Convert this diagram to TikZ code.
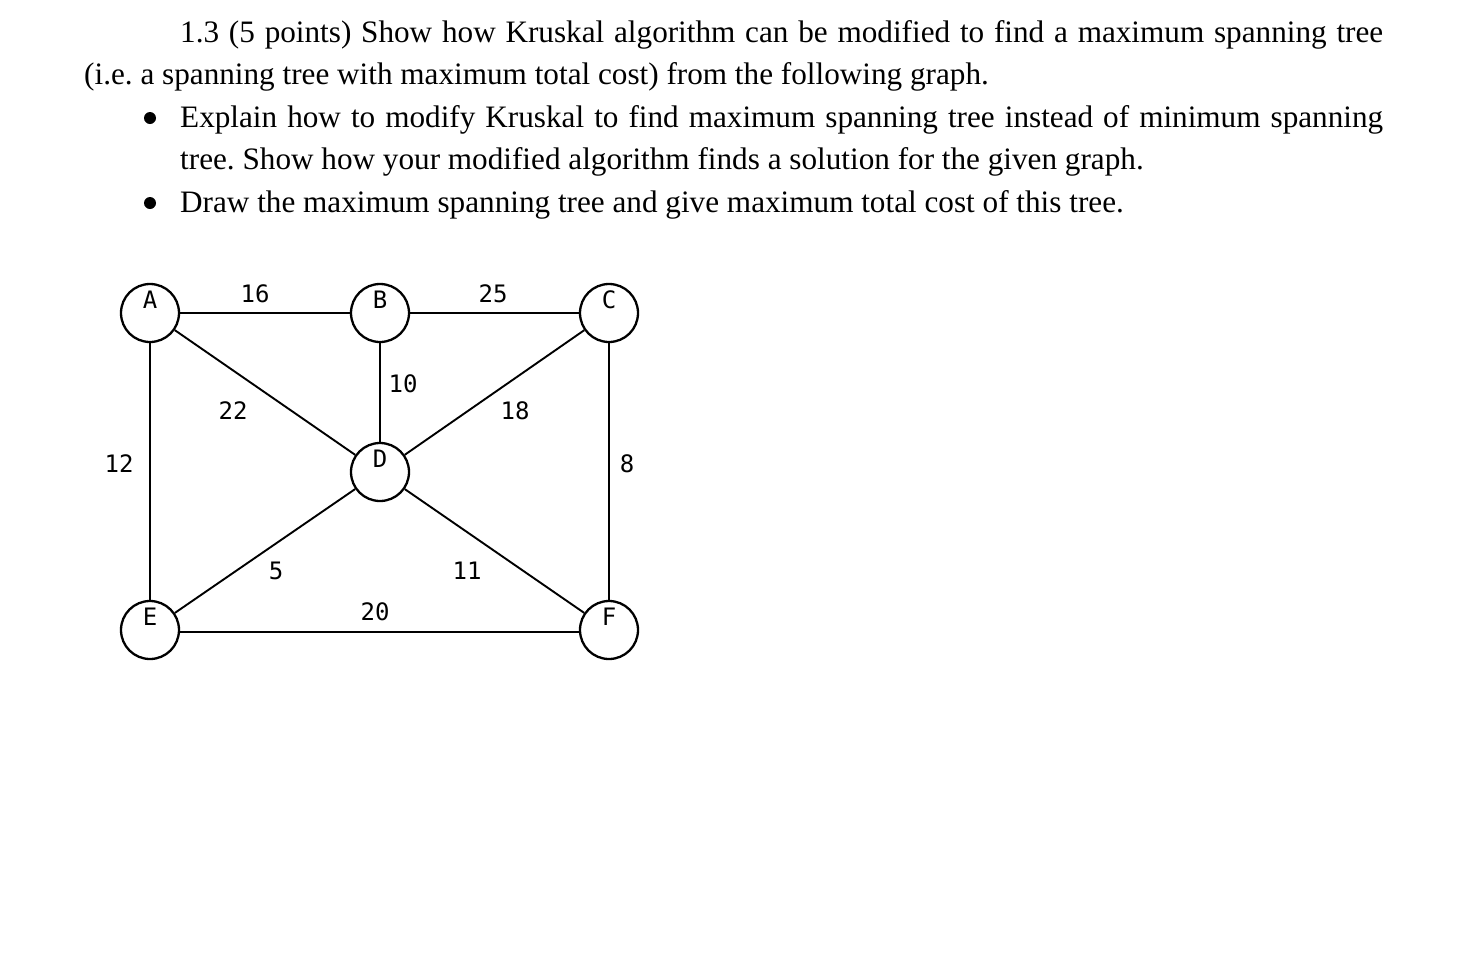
\documentclass[tikz,border=0pt]{standalone}
\usepackage{fontspec}
\setmainfont{Liberation Serif}
\newfontfamily\monofont{DejaVu Sans Mono}
\begin{document}
\frenchspacing
\begin{tikzpicture}[x=1pt,y=-1pt,
  txt/.style={anchor=base west,inner sep=0pt,font=\fontsize{31.2}{36}\selectfont},
  vert/.style={circle,draw,line width=2.3pt,minimum size=58pt,inner sep=0pt},
  vlab/.style={inner sep=0pt,font=\monofont\fontsize{24}{27}\selectfont},
  wlab/.style={inner sep=0pt,font=\monofont\fontsize{24}{27}\selectfont},
  edge/.style={line width=1.9pt}]
\useasboundingbox (0,0) rectangle (1468,954);
\fill[white] (0,0) rectangle (1468,954);
% text
\node[txt] (t1) at (180,42) {\makebox[1203pt][s]{1.3 (5 points) Show how Kruskal algorithm can be modified to find a maximum spanning tree}};
\node[txt] (t2) at (84,84) {(i.e. a spanning tree with maximum total cost) from the following graph.};
\node[txt] (t3) at (180,127) {\makebox[1203pt][s]{Explain how to modify Kruskal to find maximum spanning tree instead of minimum spanning}};
\node[txt] (t4) at (180,169) {tree. Show how your modified algorithm finds a solution for the given graph.};
\node[txt] (t5) at (180,212) {Draw the maximum spanning tree and give maximum total cost of this tree.};
\fill (150,118) circle (6);
\fill (150,203) circle (6);
% vertices
\node[vert] (A) at (150,313) {};
\node[vert] (B) at (380,313) {};
\node[vert] (C) at (609,313) {};
\node[vert] (D) at (380,472) {};
\node[vert] (E) at (150,630) {};
\node[vert] (F) at (609,630) {};
\foreach \v in {A,B,C,D,E,F}{\node[vlab] (\v lab) at ([yshift=13pt]\v.center) {\v};}
% edges
\draw[edge] (A) -- (B);
\draw[edge] (B) -- (C);
\draw[edge] (A) -- (E);
\draw[edge] (C) -- (F);
\draw[edge] (B) -- (D);
\draw[edge] (A) -- (D);
\draw[edge] (C) -- (D);
\draw[edge] (E) -- (D);
\draw[edge] (F) -- (D);
\draw[edge] ([yshift=-2pt]E.east) -- ([yshift=-2pt]F.west);
% weights
\node[wlab] (w16) at (255,294) {16};
\node[wlab] (w25) at (493,294) {25};
\node[wlab] (w10) at (403,384) {10};
\node[wlab] (w22) at (233,411) {22};
\node[wlab] (w18) at (515,411) {18};
\node[wlab] (w12) at (119,464) {12};
\node[wlab] (w8) at (627,464) {8};
\node[wlab] (w5) at (276,571) {5};
\node[wlab] (w11) at (467,571) {11};
\node[wlab] (w20) at (375,612) {20};
\end{tikzpicture}
\end{document}
